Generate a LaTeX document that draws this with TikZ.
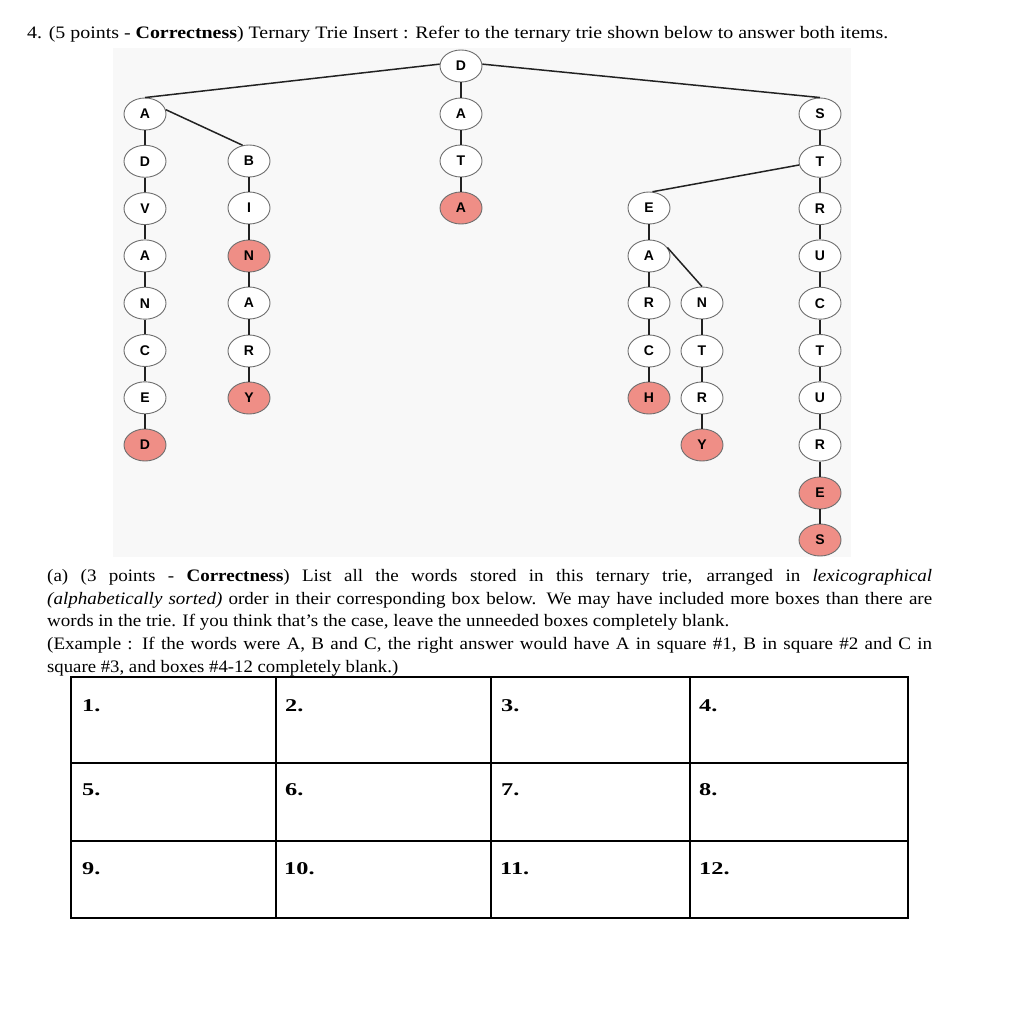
\documentclass[tikz,border=0pt]{standalone}
\usepackage{fontspec}
\usepackage{graphicx}
\usetikzlibrary{shapes.geometric}
\setmainfont{Liberation Serif}
\newfontfamily\nodefont{Liberation Sans}
\definecolor{hit}{HTML}{EF8E86}
\definecolor{edgec}{HTML}{222222}
\definecolor{ringc}{HTML}{6E6E6E}
\definecolor{panel}{HTML}{F8F8F8}
\newsavebox\jbox
\newcommand\jline[1]{\sbox\jbox{#1}\scalebox{1.088}[1]{\ifdim\wd\jbox>813.4pt\resizebox{813.4pt}{\height}{\usebox\jbox}\else\makebox[813.4pt][s]{#1}\fi}}
\newcommand\fitw[2]{\resizebox{#1}{\height}{#2}}
\newcommand\lab[1]{\scalebox{1.35}[1]{#1}}
\begin{document}
\begin{tikzpicture}[x=1pt,y=-1pt,
  tn/.style={ellipse,draw=ringc,line width=0.9pt,fill=white,minimum width=42pt,minimum height=32pt,inner sep=0pt,font=\nodefont\bfseries\fontsize{14}{14}\selectfont},
  tnhit/.style={tn,fill=hit},
  tedge/.style={draw=edgec,line width=1.5pt},
  txt/.style={anchor=base west,inner sep=0pt,font=\fontsize{17.5}{20}\selectfont},
  cell/.style={anchor=base west,inner sep=0pt,font=\bfseries\fontsize{18}{20}\selectfont},
  grid/.style={line width=1.2pt,black}]
\useasboundingbox (0,0) rectangle (1009,1024);
\fill[panel] (113,48) rectangle (851,557);

% header
\node[txt] (hdr) at (27,39) {\fitw{861pt}{4. (5 points - \textbf{Correctness}) Ternary Trie Insert : Refer to the ternary trie shown below to answer both items.}};

% nodes: column ADVANCED
\foreach \l [count=\i] in {A,D,V,A,N,C,E}
  \node[tn] (a\i) at (145,{114+47.3*(\i-1)}) {\l};
\node[tnhit] (a8) at (145,445) {D};
% BINARY
\node[tn] (b1) at (249,161) {B};
\node[tn] (b2) at (249,208) {I};
\node[tnhit] (b3) at (249,256) {N};
\node[tn] (b4) at (249,303) {A};
\node[tn] (b5) at (249,351) {R};
\node[tnhit] (b6) at (249,398) {Y};
% DATA
\node[tn] (d0) at (461,66) {D};
\node[tn] (d1) at (461,114) {A};
\node[tn] (d2) at (461,161) {T};
\node[tnhit] (d3) at (461,208) {A};
% E column
\node[tn] (e1) at (649,208) {E};
\node[tn] (e2) at (649,256) {A};
\node[tn] (e3) at (649,303) {R};
\node[tn] (e4) at (649,351) {C};
\node[tnhit] (e5) at (649,398) {H};
% N column
\node[tn] (n1) at (702,303) {N};
\node[tn] (n2) at (702,351) {T};
\node[tn] (n3) at (702,398) {R};
\node[tnhit] (n4) at (702,445) {Y};
% S column
\foreach \l [count=\i] in {S,T,R,U,C,T,U,R}
  \node[tn] (s\i) at (820,{114+47.3*(\i-1)}) {\l};
\node[tnhit] (s9) at (820,493) {E};
\node[tnhit] (s10) at (820,540) {S};

% edges
\path[tedge] (d0.175) -- (a1.north);
\path[tedge] (d0.5) -- (s1.north);
\path[tedge] (a1.12) -- (b1.112);
\path[tedge] (s2.190) -- (e1.78);
\path[tedge] (e2.25) -- (n1.north);
\foreach \i [evaluate=\i as \j using int(\i+1)] in {1,...,7} \path[tedge] (a\i) -- (a\j);
\foreach \i [evaluate=\i as \j using int(\i+1)] in {1,...,5} \path[tedge] (b\i) -- (b\j);
\foreach \i [evaluate=\i as \j using int(\i+1)] in {0,...,2} \path[tedge] (d\i) -- (d\j);
\foreach \i [evaluate=\i as \j using int(\i+1)] in {1,...,4} \path[tedge] (e\i) -- (e\j);
\foreach \i [evaluate=\i as \j using int(\i+1)] in {1,...,3} \path[tedge] (n\i) -- (n\j);
\foreach \i [evaluate=\i as \j using int(\i+1)] in {1,...,9} \path[tedge] (s\i) -- (s\j);

% paragraph
\node[txt] (p1) at (47,581) {\jline{(a) (3 points - \textbf{Correctness}) List all the words stored in this ternary trie, arranged in \textit{lexicographical}}};
\node[txt] (p2) at (47,604) {\jline{\textit{(alphabetically sorted)} order in their corresponding box below. We may have included more boxes than there are}};
\node[txt] (p3) at (47,626) {\fitw{682pt}{words in the trie. If you think that’s the case, leave the unneeded boxes completely blank.}};
\node[txt] (p4) at (47,649) {\jline{(Example : If the words were A, B and C, the right answer would have A in square \#1, B in square \#2 and C in}};
\node[txt] (p5) at (47,672) {\fitw{351pt}{square \#3, and boxes \#4-12 completely blank.)}};

% table
\draw[grid] (71,677) rectangle (908,918);
\draw[grid] (71,763) -- (908,763);
\draw[grid] (71,841) -- (908,841);
\draw[grid] (276,677) -- (276,918);
\draw[grid] (491,677) -- (491,918);
\draw[grid] (690,677) -- (690,918);
\node[cell] (c1) at (82,711) {\lab{1.}};
\node[cell] (c2) at (285,711) {\lab{2.}};
\node[cell] (c3) at (501,711) {\lab{3.}};
\node[cell] (c4) at (699,711) {\lab{4.}};
\node[cell] (c5) at (82,795) {\lab{5.}};
\node[cell] (c6) at (285,795) {\lab{6.}};
\node[cell] (c7) at (501,795) {\lab{7.}};
\node[cell] (c8) at (699,795) {\lab{8.}};
\node[cell] (c9) at (82,874) {\lab{9.}};
\node[cell] (c10) at (284,874) {\lab{10.}};
\node[cell] (c11) at (500,874) {\lab{11.}};
\node[cell] (c12) at (699,874) {\lab{12.}};
\end{tikzpicture}
\end{document}
